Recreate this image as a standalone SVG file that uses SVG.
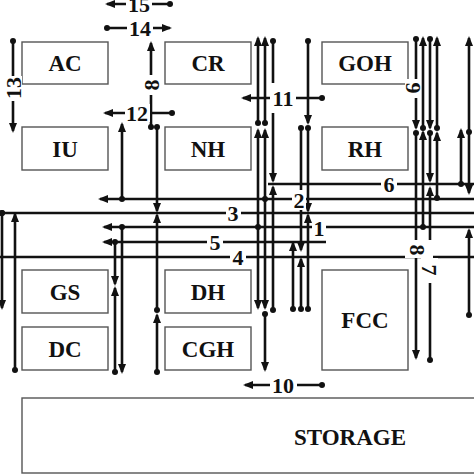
<svg xmlns="http://www.w3.org/2000/svg" width="474" height="474" viewBox="0 0 474 474">
<defs>
<marker id="ar" markerUnits="userSpaceOnUse" markerWidth="10" markerHeight="8" viewBox="0 0 10 8" refX="8" refY="4" orient="auto"><path d="M0,0 L10,4 L0,8 z" fill="#111"/></marker>
<marker id="dt" markerUnits="userSpaceOnUse" markerWidth="7" markerHeight="7" viewBox="0 0 7 7" refX="3.5" refY="3.5"><circle cx="3.5" cy="3.5" r="3" fill="#111"/></marker>
<style>
.bx{fill:#fff;stroke:#555;stroke-width:1.4}
.t{font-family:"Liberation Serif","Times New Roman",serif;font-weight:bold;font-size:23px;text-anchor:middle;fill:#111}
.n{font-size:22px}
.c{fill:none;stroke:#111;stroke-width:2.6}
.da{marker-start:url(#dt);marker-end:url(#ar)}
.a{marker-end:url(#ar)}
.d{marker-start:url(#dt)}
.bg{fill:#fff}
</style>
</defs>
<rect width="474" height="474" fill="#fff"/>
<g id="AC"><rect class="bx" x="22" y="42" width="86" height="42"/><text class="t" x="65" y="71">AC</text></g>
<g id="CR"><rect class="bx" x="165" y="42" width="86" height="42"/><text class="t" x="208" y="71">CR</text></g>
<g id="GOH"><rect class="bx" x="322" y="42" width="86" height="42"/><text class="t" x="365" y="71">GOH</text></g>
<g id="IU"><rect class="bx" x="22" y="127" width="86" height="43"/><text class="t" x="65" y="157">IU</text></g>
<g id="NH"><rect class="bx" x="165" y="127" width="86" height="43"/><text class="t" x="208" y="157">NH</text></g>
<g id="RH"><rect class="bx" x="322" y="127" width="86" height="43"/><text class="t" x="365" y="157">RH</text></g>
<g id="GS"><rect class="bx" x="22" y="270" width="86" height="43"/><text class="t" x="65" y="300">GS</text></g>
<g id="DH"><rect class="bx" x="165" y="270" width="86" height="43"/><text class="t" x="208" y="300">DH</text></g>
<g id="DC"><rect class="bx" x="22" y="327" width="86" height="43"/><text class="t" x="65" y="357">DC</text></g>
<g id="CGH"><rect class="bx" x="165" y="327" width="86" height="43"/><text class="t" x="208" y="357">CGH</text></g>
<g id="FCC"><rect class="bx" x="322" y="270" width="86" height="100"/><text class="t" x="365" y="328">FCC</text></g>
<g id="STORAGE"><rect class="bx" x="22" y="398" width="470" height="75"/><text class="t" x="350" y="445">STORAGE</text></g>
<g id="connectors">
<path class="c a" d="M474 199H100"/>
<path class="c d" d="M2 213H474"/>
<path class="c a" d="M474 227H104"/>
<path class="c a" d="M326 242H104"/>
<path class="c" d="M0 257H474"/>
<path class="c" d="M268 184H474"/>
<path class="c da" d="M107 28H170"/>
<path class="c da" d="M170 4H107"/>
<path class="c da" d="M172 113H105"/>
<path class="c da" d="M322 98H243"/>
<path class="c da" d="M322 385H245"/>
<path class="c da" d="M13 41V131"/>
<path class="c da" d="M2 213V308"/>
<path class="c da" d="M15 370V214"/>
<path class="c da" d="M122 199V124"/>
<path class="c da" d="M122 227V372"/>
<path class="c da" d="M115 242V284"/>
<path class="c da" d="M115 372V288"/>
<path class="c da" d="M151 127V43"/>
<path class="c da" d="M157 127V211"/>
<path class="c da" d="M157 310V215"/>
<path class="c da" d="M157 372V315"/>
<path class="c da" d="M258 123V38"/>
<path class="c da" d="M258 227V130"/>
<path class="c a" d="M258 227V308"/>
<path class="c da" d="M265 123V38"/>
<path class="c da" d="M265 199V130"/>
<path class="c a" d="M265 199V308"/>
<path class="c da" d="M265 314V370"/>
<path class="c da" d="M273 41V181"/>
<path class="c da" d="M273 310V187"/>
<path class="c da" d="M293 309V243"/>
<path class="c da" d="M301 128V250"/>
<path class="c da" d="M301 309V259"/>
<path class="c da" d="M308 41V123"/>
<path class="c da" d="M308 128V211"/>
<path class="c da" d="M308 309V215"/>
<path class="c da" d="M416 39V128"/>
<path class="c da" d="M416 133V358"/>
<path class="c da" d="M423 128V38"/>
<path class="c da" d="M423 227V132"/>
<path class="c da" d="M430 39V128"/>
<path class="c da" d="M430 133V181"/>
<path class="c da" d="M430 360V188"/>
<path class="c da" d="M437 128V38"/>
<path class="c da" d="M437 198V133"/>
<path class="c da" d="M461 184V130"/>
<path class="c da" d="M469 132V38"/>
<path class="c a" d="M469 132V193"/>
<path class="c da" d="M469 315V230"/>
</g>
<g id="labels">
<rect class="bg" x="126" y="-5" width="26" height="17"/><text class="t n" x="139" y="12">15</text>
<rect class="bg" x="127" y="19" width="26" height="18"/><text class="t n" x="140" y="36">14</text>
<rect class="bg" x="4" y="76" width="18" height="25"/><text class="t n" transform="translate(13,88) rotate(-90)" y="8">13</text>
<rect class="bg" x="125" y="104" width="25" height="18"/><text class="t n" x="137" y="121">12</text>
<rect class="bg" x="143" y="75" width="16" height="20"/><text class="t n" transform="translate(151,85) rotate(-90)" y="8">8</text>
<rect class="bg" x="270" y="83" width="26" height="30"/><text class="t n" x="283" y="106">11</text>
<rect class="bg" x="405" y="79" width="16" height="19"/><text class="t n" transform="translate(414,88) rotate(90)" y="8">9</text>
<rect class="bg" x="381" y="176" width="16" height="17"/><text class="t n" x="389" y="192">6</text>
<rect class="bg" x="226" y="205" width="15" height="17"/><text class="t n" x="233" y="221">3</text>
<rect class="bg" x="292" y="190" width="14" height="20"/><text class="t n" x="299" y="208">2</text>
<rect class="bg" x="312" y="218" width="14" height="20"/><text class="t n" x="319" y="236">1</text>
<rect class="bg" x="207" y="234" width="16" height="17"/><text class="t n" x="215" y="250">5</text>
<rect class="bg" x="230" y="249" width="16" height="17"/><text class="t n" x="238" y="265">4</text>
<rect class="bg" x="405" y="240" width="28" height="18"/><text class="t n" transform="translate(418,250) rotate(90)" y="8">8</text>
<rect class="bg" x="421" y="258" width="17" height="25"/><text class="t n" transform="translate(430,270) rotate(90)" y="8">7</text>
<rect class="bg" x="270" y="376" width="27" height="18"/><text class="t n" x="283" y="393">10</text>
</g>
</svg>
